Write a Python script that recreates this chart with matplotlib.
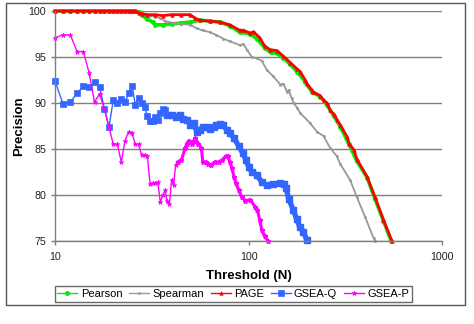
import matplotlib
matplotlib.use('Agg')
import matplotlib.pyplot as plt
import matplotlib.ticker as ticker
from matplotlib.patches import Rectangle

plt.rcParams['font.family'] = ['Liberation Sans', 'DejaVu Sans']

# values
flat_n = list(range(10, 27))

pearson_n = flat_n + [27, 28, 30, 32, 33, 36, 40, 45, 50, 56, 63, 71, 80, 90, 102, 110, 121, 130,
                      140, 151, 164, 178, 196, 212, 234, 254, 275, 298, 330, 362, 409, 449, 497, 545]
pearson_p = [100] * 17 + [99.9, 99.6, 99.1, 98.8, 98.5, 98.5, 98.6, 98.7, 98.8, 99.0, 98.9, 98.8, 98.4,
                          97.7, 97.5, 97.0, 96.0, 95.5, 95.4, 94.9, 94.2, 93.4, 92.3, 91.2, 90.7, 89.8,
                          88.6, 87.4, 85.5, 83.7, 81.9, 79.6, 77.2, 75.0]

spearman_n = flat_n + [28, 31, 33, 35, 37, 41, 45, 50, 54, 58, 63, 68, 74, 80, 90, 94, 98, 104, 110,
                       117, 124, 134, 146, 151, 158, 161, 167, 171, 178, 185, 208, 225, 244, 264, 286,
                       297, 335, 362, 400, 442, 450]
spearman_p = [100] * 17 + [99.8, 99.5, 99.4, 99.2, 98.9, 98.7, 98.6, 98.5, 98.1, 97.9, 97.7, 97.4, 97.0,
                           96.7, 96.3, 96.4, 95.8, 95.0, 94.85, 94.6, 93.6, 92.9, 92.0, 92.1, 91.2, 91.4,
                           90.5, 90.0, 89.5, 88.9, 87.8, 86.9, 86.4, 85.1, 84.2, 83.4, 81.6, 79.8, 77.6,
                           75.3, 75.0]

page_n = flat_n + [27, 28, 30, 33, 36, 40, 45, 50, 53, 56, 63, 71, 80, 90, 94, 102, 106, 114, 121, 129,
                   140, 151, 164, 178, 185, 196, 200, 212, 216, 234, 244, 254, 264, 275, 286, 298, 323,
                   330, 350, 362, 409, 449, 497, 550]
page_p = [100] * 17 + [99.8, 99.7, 99.6, 99.6, 99.5, 99.6, 99.6, 99.6, 99.2, 99.0, 98.9, 98.8, 98.5,
                       97.9, 97.9, 97.6, 97.75, 97.1, 96.2, 95.8, 95.7, 95.1, 94.4, 93.7, 93.4, 92.5,
                       92.1, 91.4, 91.2, 90.8, 90.3, 90.0, 89.2, 88.8, 88.2, 87.6, 86.3, 85.6, 84.9,
                       83.9, 82.0, 79.8, 77.3, 75.0]

gseaq_n = list(range(10, 39)) + [40, 42, 44, 46, 48, 50, 52, 54, 56, 58, 61, 63, 66, 68, 71, 74, 77,
                                 80, 84, 89, 93, 97, 100, 104, 110, 117, 124, 134, 146, 152, 156, 161,
                                 170, 177, 184, 192, 200]
gseaq_p = [92.4, 89.9, 90.1, 91.05, 91.8, 91.7, 92.25, 91.7, 89.4, 87.4, 90.3, 90.0, 90.4, 90.1, 91.05,
           91.9, 89.8, 90.6, 90.0, 89.6, 88.6, 88.0, 88.0, 88.5, 88.2, 88.9, 89.4, 89.2, 88.7, 88.7,
           88.5, 88.7, 88.3, 88.2, 87.6, 87.8, 86.9, 87.1, 87.4, 87.4, 87.2, 87.4, 87.6, 87.7, 87.6,
           87.1, 86.7, 86.2, 85.3, 84.6, 83.8, 83.1, 82.5, 82.2, 81.4, 81.1, 81.2, 81.3, 81.2, 80.8,
           79.6, 78.4, 77.4, 76.5, 76.0, 75.1]

gseap_n = list(range(10, 44)) + [45, 47, 48, 49, 51, 52, 53, 55, 57, 58, 60, 62, 64, 67, 70, 73, 76,
                                 78, 80, 82, 84, 86, 89, 92, 96, 102, 108, 111, 114, 117, 121, 126]
gseap_p = [97.1, 97.4, 97.4, 95.6, 95.6, 93.3, 90.1, 91.0, 89.3, 87.4, 85.5, 85.5, 83.6, 85.9, 86.9,
           86.7, 85.5, 85.5, 84.4, 84.4, 84.2, 81.2, 81.3, 81.3, 81.4, 79.2, 80.0, 80.5, 79.3, 79.0,
           81.6, 81.1, 83.3, 83.6, 83.8, 85.1, 85.6, 85.9, 85.6, 85.9, 86.2, 85.6, 85.1, 83.6, 83.6,
           83.4, 83.3, 83.6, 83.6, 83.8, 84.2, 84.2, 83.6, 82.9, 82.0, 81.3, 80.5, 79.8, 79.4, 79.5,
           78.7, 78.4, 77.3, 76.2, 75.5, 75.0]

fig = plt.figure(figsize=(4.74, 3.24), dpi=100)
ax = fig.add_axes([0.116, 0.256, 0.817, 0.710])


def draw(n, p, color, marker, ms, lw, label, tail_from=None, tail_lw=None):
    ax.plot(n, p, color=color, marker=marker, ms=ms, lw=lw, label=label,
            markeredgewidth=0.5, clip_on=False)
    if tail_from is not None:
        i = n.index(tail_from)
        ax.plot(n[i:], p[i:], color=color, marker=marker, ms=ms, lw=tail_lw, clip_on=False)


draw(pearson_n, pearson_p, '#00ee00', 'o', 3, 2.6, 'Pearson')
draw(spearman_n, spearman_p, '#999999', 'o', 1.5, 1.3, 'Spearman')
draw(page_n, page_p, '#ff0000', '^', 2.5, 2.0, 'PAGE')
draw(gseaq_n, gseaq_p, '#3366ff', 's', 4, 1.0, 'GSEA-Q', tail_from=38, tail_lw=3.8)
draw(gseap_n, gseap_p, '#ff00ff', '*', 3.5, 1.0, 'GSEA-P', tail_from=43, tail_lw=2.2)

ax.set_xscale('log')
ax.set_xlim(10, 1000)
ax.set_ylim(75, 100)
ax.set_yticks([75, 80, 85, 90, 95, 100])
ax.xaxis.set_major_locator(ticker.FixedLocator([10, 100, 1000]))
ax.xaxis.set_major_formatter(ticker.FixedFormatter(['10', '100', '1000']))
ax.xaxis.set_minor_locator(ticker.NullLocator())
ax.grid(axis='y', color='#7f7f7f', lw=1.0)
ax.set_axisbelow(True)

for s in ['top', 'right']:
    ax.spines[s].set_visible(False)
for s in ['left', 'bottom']:
    ax.spines[s].set_color('#7f7f7f')
    ax.spines[s].set_linewidth(1.0)
ax.tick_params(axis='both', length=3, width=1, color='#7f7f7f', labelsize=7.7, labelcolor='#222222')
ax.tick_params(axis='x', pad=5)

fig.text(0.040, 0.61, 'Precision', rotation=90, fontsize=9.5, fontweight='bold',
         ha='center', va='center')
fig.text(0.525, 0.148, 'Threshold (N)', fontsize=9.5, fontweight='bold', ha='center', va='center')

leg = fig.legend(loc='center', bbox_to_anchor=(0.492, 0.093), ncol=5, fontsize=8,
                 frameon=True, fancybox=False, handlelength=1.8, handletextpad=0.3,
                 columnspacing=0.6, borderpad=0.25, borderaxespad=0)
leg.get_frame().set_edgecolor('#444444')
leg.get_frame().set_linewidth(1.0)
for h in leg.legend_handles:
    h.set_linewidth(1.0)

fig.patches.append(Rectangle((6 / 474, 1 - 305 / 324), 459 / 474, 302 / 324,
                             transform=fig.transFigure, fill=False, edgecolor='#555555', lw=1.0))

fig.savefig('out.png', dpi=100)
